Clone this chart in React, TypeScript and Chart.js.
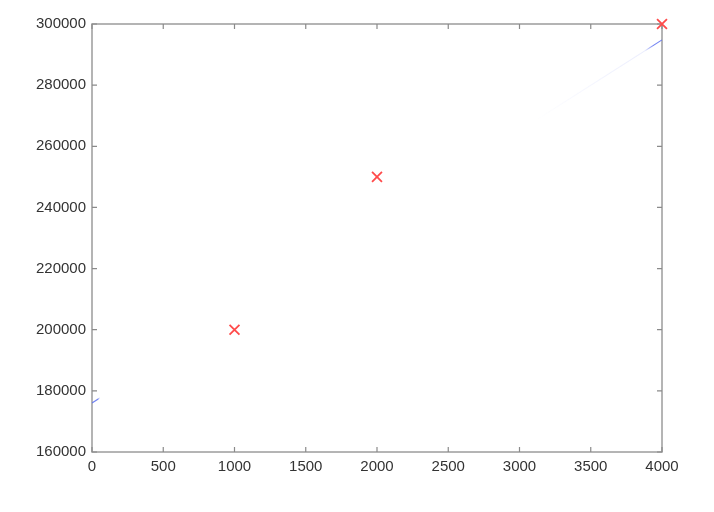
import React, { useEffect, useRef } from "react";
import { Chart, registerables } from "chart.js";

Chart.register(...registerables);

const sampleX = [1000, 2000, 4000];
const sampleY = [200000, 250000, 300000];
const fitX = [0, 4000];
const fitY = [176000, 294800];
const xRange = [0, 4000];
const yRange = [160000, 300000];
const xStep = 500;
const yStep = 20000;

const boxPlugin = {
  id: "boxPlugin",
  beforeDatasetsDraw(chart: any) {
    const { ctx, chartArea, scales } = chart;
    const { left, right, top, bottom } = chartArea;
    ctx.save();
    ctx.strokeStyle = "#9c9c9c";
    ctx.lineWidth = 1.5;
    ctx.strokeRect(left, top, right - left, bottom - top);
    ctx.lineWidth = 1.2;
    ctx.strokeStyle = "#8a8a8a";
    const tl = 5;
    scales.x.ticks.forEach((t: any) => {
      const px = scales.x.getPixelForValue(t.value);
      ctx.beginPath();
      ctx.moveTo(px, bottom);
      ctx.lineTo(px, bottom - tl);
      ctx.moveTo(px, top);
      ctx.lineTo(px, top + tl);
      ctx.stroke();
    });
    scales.y.ticks.forEach((t: any) => {
      const py = scales.y.getPixelForValue(t.value);
      ctx.beginPath();
      ctx.moveTo(left, py);
      ctx.lineTo(left + tl, py);
      ctx.moveTo(right, py);
      ctx.lineTo(right - tl, py);
      ctx.stroke();
    });
    ctx.restore();
  },
};

function fitColor(context: any) {
  const chart = context.chart;
  const area = chart.chartArea;
  if (!area) return "rgba(90,110,240,0.8)";
  const g = chart.ctx.createLinearGradient(area.left, 0, area.right, 0);
  g.addColorStop(0, "rgba(90,110,240,0.85)");
  g.addColorStop(0.01, "rgba(90,110,240,0.85)");
  g.addColorStop(0.014, "rgba(90,110,240,0.0)");
  g.addColorStop(0.78, "rgba(90,110,240,0.0)");
  g.addColorStop(0.97, "rgba(90,110,240,0.12)");
  g.addColorStop(0.985, "rgba(90,110,240,0.85)");
  g.addColorStop(1, "rgba(90,110,240,0.85)");
  return g;
}

export default function App() {
  const ref = useRef<HTMLCanvasElement>(null);
  useEffect(() => {
    if (!ref.current) return;
    const font = { family: "'Liberation Sans', Arial, Helvetica, sans-serif", size: 15 };
    const chart = new Chart(ref.current, {
      type: "scatter",
      data: {
        datasets: [
          {
            type: "line",
            data: fitX.map((x, i) => ({ x, y: fitY[i] })),
            borderColor: fitColor,
            borderWidth: 1.2,
            pointRadius: 0,
            fill: false,
          } as any,
          {
            data: sampleX.map((x, i) => ({ x, y: sampleY[i] })),
            pointStyle: "crossRot",
            pointRadius: 7,
            pointHoverRadius: 7,
            borderColor: "#ff4a4a",
            backgroundColor: "#ff4a4a",
            pointBorderWidth: 1.8,
            clip: false,
          } as any,
        ],
      },
      options: {
        animation: false,
        responsive: true,
        maintainAspectRatio: false,
        layout: { padding: { left: 0, top: 24, right: 52, bottom: 0 } },
        plugins: { legend: { display: false }, tooltip: { enabled: false } },
        scales: {
          x: {
            type: "linear",
            min: xRange[0],
            max: xRange[1],
            grid: { display: false, drawTicks: false },
            border: { display: false },
            ticks: {
              stepSize: xStep,
              color: "#333",
              font,
              padding: 6,
              maxRotation: 0,
              callback: (v: any) => String(v),
            },
            afterFit: (s: any) => {
              s.height = 60;
            },
          },
          y: {
            type: "linear",
            min: yRange[0],
            max: yRange[1],
            grid: { display: false, drawTicks: false },
            border: { display: false },
            ticks: {
              stepSize: yStep,
              color: "#333",
              font,
              padding: 6,
              callback: (v: any) => String(v),
            },
            afterFit: (s: any) => {
              s.width = 92;
            },
          },
        },
      } as any,
      plugins: [boxPlugin],
    });
    return () => chart.destroy();
  }, []);
  return (
    <div style={{ position: "absolute", left: 0, top: 0, width: 714, height: 512, background: "#fff" }}>
      <canvas ref={ref} />
    </div>
  );
}
